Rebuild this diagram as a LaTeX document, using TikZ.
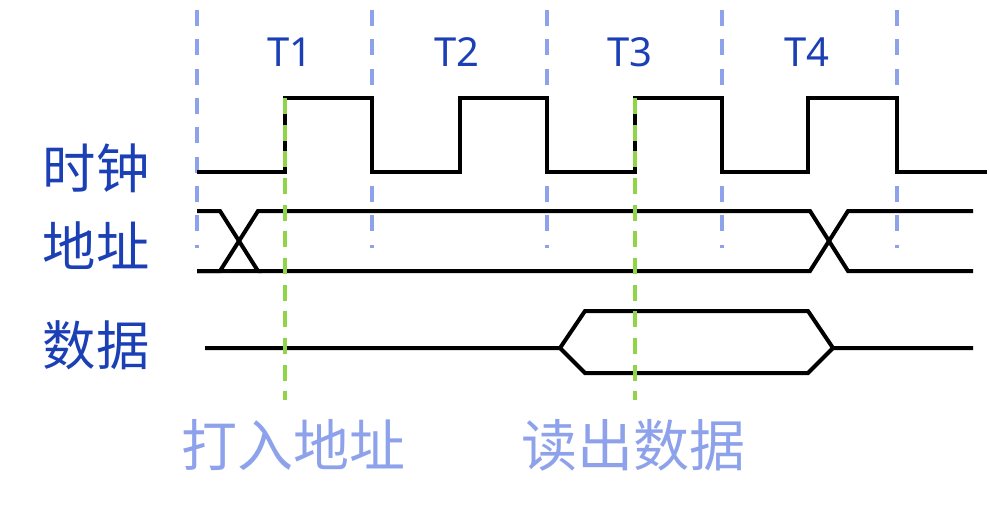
\documentclass[tikz,border=0pt]{standalone}
\usepackage{fontspec}
\setmainfont{Noto Sans}
\newfontfamily\cjk{Noto Sans CJK SC}
\definecolor{dblue}{HTML}{1B3FB5}
\definecolor{lblue}{HTML}{8DA2EA}
\definecolor{gdash}{HTML}{8ED548}
\begin{document}
\begin{tikzpicture}[x=0.75pt,y=-0.75pt,
  sig/.style={line width=3pt,black,line join=miter},
  bdash/.style={line width=3pt,lblue,dash pattern=on 12pt off 10pt},
  gd/.style={line width=3pt,gdash,dash pattern=on 12pt off 8pt},
  tl/.style={font=\bfseries\fontsize{30}{32}\selectfont,text=dblue},
  cl/.style={font=\cjk\fontsize{40}{44}\selectfont,text=dblue},
  bl/.style={font=\cjk\fontsize{42}{46}\selectfont,text=lblue}]
\useasboundingbox (0,0) rectangle (989,511);
\foreach \x in {197,372,547,722,897} \draw[bdash] (\x,10) -- (\x,248);
\draw[sig] (197,172)-|(285,98)-|(372,172)-|(460,98)-|(547,172)-|(635,98)-|(722,172)-|(808,98)-|(897,172)--(987,172);
\draw[sig] (197,211)--(220,211)--(258,271)--(197,271);
\draw[sig] (197,271)--(220,271)--(258,211)--(810,211)--(848,271)--(973,271);
\draw[sig] (258,271)--(810,271)--(848,211)--(973,211);
\draw[sig] (205,348)--(560,348)--(585,311)--(808,311)--(833,348)--(973,348);
\draw[sig] (560,348)--(585,373)--(808,373)--(833,348);
\draw[gd] (285,98)--(285,400);
\draw[gd] (635,98)--(635,400);
\node[tl] (t1) at (290,52) {T1};
\node[tl] (t2) at (457,52) {T2};
\node[tl] (t3) at (630,52) {T3};
\node[tl] (t4) at (807,52) {T4};
\node[cl] (clk) at (96,168) {时钟};
\node[cl] (adr) at (96,246) {地址};
\node[cl] (dat) at (96,345) {数据};
\node[bl] (b1) at (293,445) {打入地址};
\node[bl] (b2) at (633,445) {读出数据};
\end{tikzpicture}
\end{document}
